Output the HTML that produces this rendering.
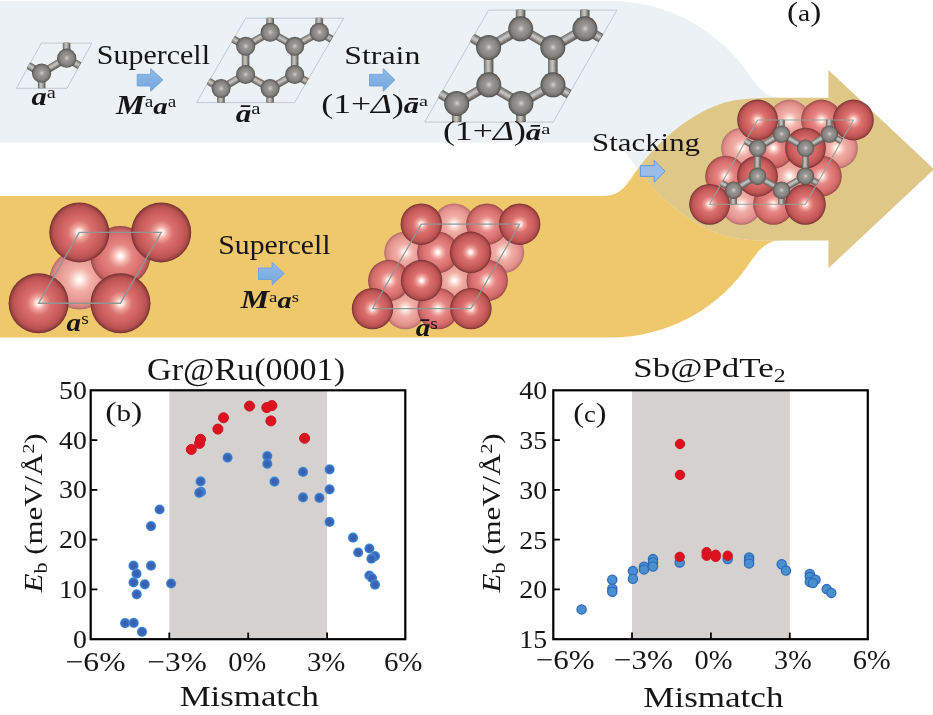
<!DOCTYPE html>
<html><head><meta charset="utf-8"><title>Figure</title><style>html,body{margin:0;padding:0;background:#fff}svg{display:block}</style></head><body>
<svg width="933" height="715" viewBox="0 0 933 715" font-family="'Liberation Serif',serif" fill="#161616"><defs>
<radialGradient id="gC" cx="50%" cy="50%" r="50%" fx="51%" fy="49%">
<stop offset="0" stop-color="#dedcd8"/><stop offset="0.1" stop-color="#bcbab6"/><stop offset="0.3" stop-color="#9a9894"/><stop offset="0.7" stop-color="#868481"/><stop offset="0.9" stop-color="#6a6865"/><stop offset="1" stop-color="#4a4846"/>
</radialGradient>
<radialGradient id="gR1" cx="50%" cy="50%" r="50%">
<stop offset="0" stop-color="#ffffff"/><stop offset="0.08" stop-color="#ffece8"/><stop offset="0.22" stop-color="#f0a29a"/><stop offset="0.40" stop-color="#da706e"/><stop offset="0.65" stop-color="#cd605f"/><stop offset="0.85" stop-color="#ba5252"/><stop offset="0.94" stop-color="#9a4242"/><stop offset="1" stop-color="#6e2c2c"/>
</radialGradient>
<radialGradient id="gR2" cx="50%" cy="50%" r="50%">
<stop offset="0" stop-color="#ffffff"/><stop offset="0.08" stop-color="#fff2ee"/><stop offset="0.22" stop-color="#f6b8b0"/><stop offset="0.40" stop-color="#e68684"/><stop offset="0.65" stop-color="#dc7472"/><stop offset="0.85" stop-color="#cc6664"/><stop offset="0.95" stop-color="#ae5454"/><stop offset="1" stop-color="#8e4444"/>
</radialGradient>
<radialGradient id="gR3" cx="50%" cy="50%" r="50%">
<stop offset="0" stop-color="#ffffff"/><stop offset="0.08" stop-color="#fff6f2"/><stop offset="0.22" stop-color="#f9d2ca"/><stop offset="0.40" stop-color="#f0aea6"/><stop offset="0.65" stop-color="#ea9c96"/><stop offset="0.85" stop-color="#de8c88"/><stop offset="0.95" stop-color="#c67876"/><stop offset="1" stop-color="#aa6866"/>
</radialGradient>
<radialGradient id="gB"><stop offset="0" stop-color="#3a5fae"/><stop offset="0.5" stop-color="#3963b3"/><stop offset="0.8" stop-color="#3d78c8"/><stop offset="1" stop-color="#4e98e4"/></radialGradient>
<linearGradient id="gA" x1="0" y1="0" x2="0" y2="1">
<stop offset="0" stop-color="#93bbe8"/><stop offset="1" stop-color="#74a6de"/>
</linearGradient>
</defs>
<path d="M0.0,337.5 L610.0,337.5 A168.3,168.3 0 0 0 751.5,260.3 C757.5,251.9 766.0,240.6 780.0,240.6 L828.4,240.6 L828.4,268.3 L934.0,169.2 L828.4,70.1 L828.4,97.8 L772.0,97.7 C770.2,97.7 765.0,97.8 761.5,97.9 C758.0,98.0 754.4,98.2 750.8,98.5 C747.2,98.8 743.6,99.1 740.0,99.6 C736.4,100.1 732.9,100.7 729.3,101.6 C725.7,102.4 722.2,103.4 718.6,104.7 C715.0,105.9 711.5,107.4 707.9,109.1 C704.3,110.8 700.8,112.7 697.2,114.8 C693.6,116.9 690.1,119.1 686.5,121.6 C682.9,124.1 679.3,126.7 675.7,129.6 C672.1,132.4 668.6,135.4 665.0,138.7 C661.4,141.9 657.8,145.4 654.3,149.1 C650.8,152.7 647.2,157.0 644.3,160.6 C641.3,164.2 638.9,167.5 636.6,170.6 C634.3,173.7 632.3,176.8 630.5,179.2 C628.7,181.6 627.5,183.4 626.0,185.2 C624.5,187.0 623.1,188.5 621.5,189.8 C619.9,191.1 618.3,192.2 616.5,193.1 C614.7,194.0 612.6,194.7 610.5,195.2 C608.4,195.7 605.1,195.8 604.0,195.9 L0.0,195.9 Z" fill="#efc86c"/>
<path d="M0.0,0.9 L610.0,0.9 A168.3,168.3 0 0 1 751.5,78.1 C757.5,86.5 766.0,97.8 780.0,97.8 L828.4,97.8 L828.4,70.1 L934.0,169.2 L828.4,268.3 L828.4,240.6 L772.0,240.7 C770.2,240.7 765.0,240.6 761.5,240.5 C758.0,240.4 754.4,240.2 750.8,239.9 C747.2,239.6 743.6,239.3 740.0,238.8 C736.4,238.3 732.9,237.7 729.3,236.8 C725.7,236.0 722.2,234.9 718.6,233.7 C715.0,232.4 711.5,231.0 707.9,229.3 C704.3,227.6 700.8,225.7 697.2,223.6 C693.6,221.5 690.1,219.3 686.5,216.8 C682.9,214.3 679.3,211.7 675.7,208.8 C672.1,206.0 668.6,202.9 665.0,199.7 C661.4,196.4 657.8,193.0 654.3,189.3 C650.8,185.7 647.2,181.4 644.3,177.8 C641.3,174.2 638.9,170.9 636.6,167.8 C634.3,164.7 632.3,161.6 630.5,159.2 C628.7,156.8 627.5,155.0 626.0,153.2 C624.5,151.4 623.1,149.9 621.5,148.6 C619.9,147.3 618.3,146.2 616.5,145.3 C614.7,144.4 612.6,143.7 610.5,143.2 C608.4,142.7 605.1,142.6 604.0,142.5 L0.0,142.5 Z" fill="#ecf1f5"/>
<clipPath id="cpO"><path d="M0.0,337.5 L610.0,337.5 A168.3,168.3 0 0 0 751.5,260.3 C757.5,251.9 766.0,240.6 780.0,240.6 L828.4,240.6 L828.4,268.3 L934.0,169.2 L828.4,70.1 L828.4,97.8 L772.0,97.7 C770.2,97.7 765.0,97.8 761.5,97.9 C758.0,98.0 754.4,98.2 750.8,98.5 C747.2,98.8 743.6,99.1 740.0,99.6 C736.4,100.1 732.9,100.7 729.3,101.6 C725.7,102.4 722.2,103.4 718.6,104.7 C715.0,105.9 711.5,107.4 707.9,109.1 C704.3,110.8 700.8,112.7 697.2,114.8 C693.6,116.9 690.1,119.1 686.5,121.6 C682.9,124.1 679.3,126.7 675.7,129.6 C672.1,132.4 668.6,135.4 665.0,138.7 C661.4,141.9 657.8,145.4 654.3,149.1 C650.8,152.7 647.2,157.0 644.3,160.6 C641.3,164.2 638.9,167.5 636.6,170.6 C634.3,173.7 632.3,176.8 630.5,179.2 C628.7,181.6 627.5,183.4 626.0,185.2 C624.5,187.0 623.1,188.5 621.5,189.8 C619.9,191.1 618.3,192.2 616.5,193.1 C614.7,194.0 612.6,194.7 610.5,195.2 C608.4,195.7 605.1,195.8 604.0,195.9 L0.0,195.9 Z"/></clipPath>
<path d="M0.0,0.9 L610.0,0.9 A168.3,168.3 0 0 1 751.5,78.1 C757.5,86.5 766.0,97.8 780.0,97.8 L828.4,97.8 L828.4,70.1 L934.0,169.2 L828.4,268.3 L828.4,240.6 L772.0,240.7 C770.2,240.7 765.0,240.6 761.5,240.5 C758.0,240.4 754.4,240.2 750.8,239.9 C747.2,239.6 743.6,239.3 740.0,238.8 C736.4,238.3 732.9,237.7 729.3,236.8 C725.7,236.0 722.2,234.9 718.6,233.7 C715.0,232.4 711.5,231.0 707.9,229.3 C704.3,227.6 700.8,225.7 697.2,223.6 C693.6,221.5 690.1,219.3 686.5,216.8 C682.9,214.3 679.3,211.7 675.7,208.8 C672.1,206.0 668.6,202.9 665.0,199.7 C661.4,196.4 657.8,193.0 654.3,189.3 C650.8,185.7 647.2,181.4 644.3,177.8 C641.3,174.2 638.9,170.9 636.6,167.8 C634.3,164.7 632.3,161.6 630.5,159.2 C628.7,156.8 627.5,155.0 626.0,153.2 C624.5,151.4 623.1,149.9 621.5,148.6 C619.9,147.3 618.3,146.2 616.5,145.3 C614.7,144.4 612.6,143.7 610.5,143.2 C608.4,142.7 605.1,142.6 604.0,142.5 L0.0,142.5 Z" fill="#dfc887" clip-path="url(#cpO)"/>
<polygon points="16.4,88.3 67.0,88.3 91.9,43.1 41.3,43.1" fill="none" stroke="#bcc3c8" stroke-width="0.90"/>
<g stroke="#666461" stroke-width="7.60" transform="translate(0.00,0.00)"><line x1="41.6" y1="73.2" x2="54.1" y2="65.7"/><line x1="41.6" y1="73.2" x2="28.8" y2="65.7"/><line x1="41.6" y1="73.2" x2="41.7" y2="88.3"/><line x1="66.7" y1="58.2" x2="54.1" y2="65.7"/><line x1="66.7" y1="58.2" x2="79.5" y2="65.7"/><line x1="66.7" y1="58.2" x2="66.6" y2="43.1"/></g>
<g stroke="#807e7b" stroke-width="6.08" transform="translate(-0.46,-0.46)"><line x1="41.6" y1="73.2" x2="54.1" y2="65.7"/><line x1="41.6" y1="73.2" x2="28.8" y2="65.7"/><line x1="41.6" y1="73.2" x2="41.7" y2="88.3"/><line x1="66.7" y1="58.2" x2="54.1" y2="65.7"/><line x1="66.7" y1="58.2" x2="79.5" y2="65.7"/><line x1="66.7" y1="58.2" x2="66.6" y2="43.1"/></g>
<g stroke="#9c9a96" stroke-width="4.41" transform="translate(-0.46,-0.46)"><line x1="41.6" y1="73.2" x2="54.1" y2="65.7"/><line x1="41.6" y1="73.2" x2="28.8" y2="65.7"/><line x1="41.6" y1="73.2" x2="41.7" y2="88.3"/><line x1="66.7" y1="58.2" x2="54.1" y2="65.7"/><line x1="66.7" y1="58.2" x2="79.5" y2="65.7"/><line x1="66.7" y1="58.2" x2="66.6" y2="43.1"/></g>
<g stroke="#b4b2ae" stroke-width="2.74" transform="translate(-0.46,-0.46)"><line x1="41.6" y1="73.2" x2="54.1" y2="65.7"/><line x1="41.6" y1="73.2" x2="28.8" y2="65.7"/><line x1="41.6" y1="73.2" x2="41.7" y2="88.3"/><line x1="66.7" y1="58.2" x2="54.1" y2="65.7"/><line x1="66.7" y1="58.2" x2="79.5" y2="65.7"/><line x1="66.7" y1="58.2" x2="66.6" y2="43.1"/></g>
<g stroke="#c4c2be" stroke-width="1.22" transform="translate(-0.46,-0.46)"><line x1="41.6" y1="73.2" x2="54.1" y2="65.7"/><line x1="41.6" y1="73.2" x2="28.8" y2="65.7"/><line x1="41.6" y1="73.2" x2="41.7" y2="88.3"/><line x1="66.7" y1="58.2" x2="54.1" y2="65.7"/><line x1="66.7" y1="58.2" x2="79.5" y2="65.7"/><line x1="66.7" y1="58.2" x2="66.6" y2="43.1"/></g>
<circle cx="41.6" cy="73.2" r="9.60" fill="url(#gC)"/>
<circle cx="66.7" cy="58.2" r="9.60" fill="url(#gC)"/>
<polygon points="196.5,102.6 294.6,102.6 343.8,18.2 245.7,18.2" fill="none" stroke="#bcc3c8" stroke-width="0.90"/>
<g stroke="#666461" stroke-width="7.60" transform="translate(0.00,0.00)"><line x1="221.1" y1="88.5" x2="233.3" y2="81.5"/><line x1="221.1" y1="88.5" x2="208.8" y2="81.5"/><line x1="221.1" y1="88.5" x2="221.0" y2="102.6"/><line x1="245.7" y1="46.3" x2="257.9" y2="39.3"/><line x1="245.7" y1="46.3" x2="233.4" y2="39.3"/><line x1="245.7" y1="46.3" x2="245.6" y2="60.4"/><line x1="270.1" y1="88.5" x2="282.4" y2="81.5"/><line x1="270.1" y1="88.5" x2="257.9" y2="81.5"/><line x1="270.1" y1="88.5" x2="270.1" y2="102.6"/><line x1="294.7" y1="46.3" x2="307.0" y2="39.3"/><line x1="294.7" y1="46.3" x2="282.5" y2="39.3"/><line x1="294.7" y1="46.3" x2="294.7" y2="60.4"/><line x1="245.6" y1="74.5" x2="233.3" y2="81.5"/><line x1="245.6" y1="74.5" x2="257.8" y2="81.5"/><line x1="245.6" y1="74.5" x2="245.6" y2="60.4"/><line x1="270.2" y1="32.3" x2="257.9" y2="39.3"/><line x1="270.2" y1="32.3" x2="282.4" y2="39.3"/><line x1="270.2" y1="32.3" x2="270.2" y2="18.2"/><line x1="294.7" y1="74.5" x2="282.4" y2="81.5"/><line x1="294.7" y1="74.5" x2="306.9" y2="81.5"/><line x1="294.7" y1="74.5" x2="294.7" y2="60.4"/><line x1="319.3" y1="32.3" x2="307.0" y2="39.3"/><line x1="319.3" y1="32.3" x2="331.5" y2="39.3"/><line x1="319.3" y1="32.3" x2="319.3" y2="18.2"/></g>
<g stroke="#807e7b" stroke-width="6.08" transform="translate(-0.46,-0.46)"><line x1="221.1" y1="88.5" x2="233.3" y2="81.5"/><line x1="221.1" y1="88.5" x2="208.8" y2="81.5"/><line x1="221.1" y1="88.5" x2="221.0" y2="102.6"/><line x1="245.7" y1="46.3" x2="257.9" y2="39.3"/><line x1="245.7" y1="46.3" x2="233.4" y2="39.3"/><line x1="245.7" y1="46.3" x2="245.6" y2="60.4"/><line x1="270.1" y1="88.5" x2="282.4" y2="81.5"/><line x1="270.1" y1="88.5" x2="257.9" y2="81.5"/><line x1="270.1" y1="88.5" x2="270.1" y2="102.6"/><line x1="294.7" y1="46.3" x2="307.0" y2="39.3"/><line x1="294.7" y1="46.3" x2="282.5" y2="39.3"/><line x1="294.7" y1="46.3" x2="294.7" y2="60.4"/><line x1="245.6" y1="74.5" x2="233.3" y2="81.5"/><line x1="245.6" y1="74.5" x2="257.8" y2="81.5"/><line x1="245.6" y1="74.5" x2="245.6" y2="60.4"/><line x1="270.2" y1="32.3" x2="257.9" y2="39.3"/><line x1="270.2" y1="32.3" x2="282.4" y2="39.3"/><line x1="270.2" y1="32.3" x2="270.2" y2="18.2"/><line x1="294.7" y1="74.5" x2="282.4" y2="81.5"/><line x1="294.7" y1="74.5" x2="306.9" y2="81.5"/><line x1="294.7" y1="74.5" x2="294.7" y2="60.4"/><line x1="319.3" y1="32.3" x2="307.0" y2="39.3"/><line x1="319.3" y1="32.3" x2="331.5" y2="39.3"/><line x1="319.3" y1="32.3" x2="319.3" y2="18.2"/></g>
<g stroke="#9c9a96" stroke-width="4.41" transform="translate(-0.46,-0.46)"><line x1="221.1" y1="88.5" x2="233.3" y2="81.5"/><line x1="221.1" y1="88.5" x2="208.8" y2="81.5"/><line x1="221.1" y1="88.5" x2="221.0" y2="102.6"/><line x1="245.7" y1="46.3" x2="257.9" y2="39.3"/><line x1="245.7" y1="46.3" x2="233.4" y2="39.3"/><line x1="245.7" y1="46.3" x2="245.6" y2="60.4"/><line x1="270.1" y1="88.5" x2="282.4" y2="81.5"/><line x1="270.1" y1="88.5" x2="257.9" y2="81.5"/><line x1="270.1" y1="88.5" x2="270.1" y2="102.6"/><line x1="294.7" y1="46.3" x2="307.0" y2="39.3"/><line x1="294.7" y1="46.3" x2="282.5" y2="39.3"/><line x1="294.7" y1="46.3" x2="294.7" y2="60.4"/><line x1="245.6" y1="74.5" x2="233.3" y2="81.5"/><line x1="245.6" y1="74.5" x2="257.8" y2="81.5"/><line x1="245.6" y1="74.5" x2="245.6" y2="60.4"/><line x1="270.2" y1="32.3" x2="257.9" y2="39.3"/><line x1="270.2" y1="32.3" x2="282.4" y2="39.3"/><line x1="270.2" y1="32.3" x2="270.2" y2="18.2"/><line x1="294.7" y1="74.5" x2="282.4" y2="81.5"/><line x1="294.7" y1="74.5" x2="306.9" y2="81.5"/><line x1="294.7" y1="74.5" x2="294.7" y2="60.4"/><line x1="319.3" y1="32.3" x2="307.0" y2="39.3"/><line x1="319.3" y1="32.3" x2="331.5" y2="39.3"/><line x1="319.3" y1="32.3" x2="319.3" y2="18.2"/></g>
<g stroke="#b4b2ae" stroke-width="2.74" transform="translate(-0.46,-0.46)"><line x1="221.1" y1="88.5" x2="233.3" y2="81.5"/><line x1="221.1" y1="88.5" x2="208.8" y2="81.5"/><line x1="221.1" y1="88.5" x2="221.0" y2="102.6"/><line x1="245.7" y1="46.3" x2="257.9" y2="39.3"/><line x1="245.7" y1="46.3" x2="233.4" y2="39.3"/><line x1="245.7" y1="46.3" x2="245.6" y2="60.4"/><line x1="270.1" y1="88.5" x2="282.4" y2="81.5"/><line x1="270.1" y1="88.5" x2="257.9" y2="81.5"/><line x1="270.1" y1="88.5" x2="270.1" y2="102.6"/><line x1="294.7" y1="46.3" x2="307.0" y2="39.3"/><line x1="294.7" y1="46.3" x2="282.5" y2="39.3"/><line x1="294.7" y1="46.3" x2="294.7" y2="60.4"/><line x1="245.6" y1="74.5" x2="233.3" y2="81.5"/><line x1="245.6" y1="74.5" x2="257.8" y2="81.5"/><line x1="245.6" y1="74.5" x2="245.6" y2="60.4"/><line x1="270.2" y1="32.3" x2="257.9" y2="39.3"/><line x1="270.2" y1="32.3" x2="282.4" y2="39.3"/><line x1="270.2" y1="32.3" x2="270.2" y2="18.2"/><line x1="294.7" y1="74.5" x2="282.4" y2="81.5"/><line x1="294.7" y1="74.5" x2="306.9" y2="81.5"/><line x1="294.7" y1="74.5" x2="294.7" y2="60.4"/><line x1="319.3" y1="32.3" x2="307.0" y2="39.3"/><line x1="319.3" y1="32.3" x2="331.5" y2="39.3"/><line x1="319.3" y1="32.3" x2="319.3" y2="18.2"/></g>
<g stroke="#c4c2be" stroke-width="1.22" transform="translate(-0.46,-0.46)"><line x1="221.1" y1="88.5" x2="233.3" y2="81.5"/><line x1="221.1" y1="88.5" x2="208.8" y2="81.5"/><line x1="221.1" y1="88.5" x2="221.0" y2="102.6"/><line x1="245.7" y1="46.3" x2="257.9" y2="39.3"/><line x1="245.7" y1="46.3" x2="233.4" y2="39.3"/><line x1="245.7" y1="46.3" x2="245.6" y2="60.4"/><line x1="270.1" y1="88.5" x2="282.4" y2="81.5"/><line x1="270.1" y1="88.5" x2="257.9" y2="81.5"/><line x1="270.1" y1="88.5" x2="270.1" y2="102.6"/><line x1="294.7" y1="46.3" x2="307.0" y2="39.3"/><line x1="294.7" y1="46.3" x2="282.5" y2="39.3"/><line x1="294.7" y1="46.3" x2="294.7" y2="60.4"/><line x1="245.6" y1="74.5" x2="233.3" y2="81.5"/><line x1="245.6" y1="74.5" x2="257.8" y2="81.5"/><line x1="245.6" y1="74.5" x2="245.6" y2="60.4"/><line x1="270.2" y1="32.3" x2="257.9" y2="39.3"/><line x1="270.2" y1="32.3" x2="282.4" y2="39.3"/><line x1="270.2" y1="32.3" x2="270.2" y2="18.2"/><line x1="294.7" y1="74.5" x2="282.4" y2="81.5"/><line x1="294.7" y1="74.5" x2="306.9" y2="81.5"/><line x1="294.7" y1="74.5" x2="294.7" y2="60.4"/><line x1="319.3" y1="32.3" x2="307.0" y2="39.3"/><line x1="319.3" y1="32.3" x2="331.5" y2="39.3"/><line x1="319.3" y1="32.3" x2="319.3" y2="18.2"/></g>
<circle cx="221.1" cy="88.5" r="9.50" fill="url(#gC)"/>
<circle cx="245.7" cy="46.3" r="9.50" fill="url(#gC)"/>
<circle cx="270.1" cy="88.5" r="9.50" fill="url(#gC)"/>
<circle cx="294.7" cy="46.3" r="9.50" fill="url(#gC)"/>
<circle cx="245.6" cy="74.5" r="9.50" fill="url(#gC)"/>
<circle cx="270.2" cy="32.3" r="9.50" fill="url(#gC)"/>
<circle cx="294.7" cy="74.5" r="9.50" fill="url(#gC)"/>
<circle cx="319.3" cy="32.3" r="9.50" fill="url(#gC)"/>
<polygon points="424.7,122.1 553.1,122.1 616.9,10.1 488.5,10.1" fill="none" stroke="#bcc3c8" stroke-width="0.90"/>
<g stroke="#666461" stroke-width="9.60" transform="translate(0.00,0.00)"><line x1="456.7" y1="103.4" x2="472.8" y2="94.1"/><line x1="456.7" y1="103.4" x2="440.7" y2="94.1"/><line x1="456.7" y1="103.4" x2="456.8" y2="122.1"/><line x1="488.6" y1="47.4" x2="504.6" y2="38.1"/><line x1="488.6" y1="47.4" x2="472.6" y2="38.1"/><line x1="488.6" y1="47.4" x2="488.7" y2="66.1"/><line x1="520.9" y1="103.4" x2="536.9" y2="94.1"/><line x1="520.9" y1="103.4" x2="504.8" y2="94.1"/><line x1="520.9" y1="103.4" x2="521.0" y2="122.1"/><line x1="552.8" y1="47.4" x2="568.8" y2="38.1"/><line x1="552.8" y1="47.4" x2="536.7" y2="38.1"/><line x1="552.8" y1="47.4" x2="552.9" y2="66.1"/><line x1="488.8" y1="84.8" x2="472.8" y2="94.1"/><line x1="488.8" y1="84.8" x2="504.8" y2="94.1"/><line x1="488.8" y1="84.8" x2="488.7" y2="66.1"/><line x1="520.7" y1="28.8" x2="504.6" y2="38.1"/><line x1="520.7" y1="28.8" x2="536.8" y2="38.1"/><line x1="520.7" y1="28.8" x2="520.6" y2="10.1"/><line x1="553.0" y1="84.8" x2="537.0" y2="94.1"/><line x1="553.0" y1="84.8" x2="569.1" y2="94.1"/><line x1="553.0" y1="84.8" x2="552.9" y2="66.1"/><line x1="584.9" y1="28.8" x2="568.8" y2="38.1"/><line x1="584.9" y1="28.8" x2="600.9" y2="38.1"/><line x1="584.9" y1="28.8" x2="584.8" y2="10.1"/></g>
<g stroke="#807e7b" stroke-width="7.68" transform="translate(-0.58,-0.58)"><line x1="456.7" y1="103.4" x2="472.8" y2="94.1"/><line x1="456.7" y1="103.4" x2="440.7" y2="94.1"/><line x1="456.7" y1="103.4" x2="456.8" y2="122.1"/><line x1="488.6" y1="47.4" x2="504.6" y2="38.1"/><line x1="488.6" y1="47.4" x2="472.6" y2="38.1"/><line x1="488.6" y1="47.4" x2="488.7" y2="66.1"/><line x1="520.9" y1="103.4" x2="536.9" y2="94.1"/><line x1="520.9" y1="103.4" x2="504.8" y2="94.1"/><line x1="520.9" y1="103.4" x2="521.0" y2="122.1"/><line x1="552.8" y1="47.4" x2="568.8" y2="38.1"/><line x1="552.8" y1="47.4" x2="536.7" y2="38.1"/><line x1="552.8" y1="47.4" x2="552.9" y2="66.1"/><line x1="488.8" y1="84.8" x2="472.8" y2="94.1"/><line x1="488.8" y1="84.8" x2="504.8" y2="94.1"/><line x1="488.8" y1="84.8" x2="488.7" y2="66.1"/><line x1="520.7" y1="28.8" x2="504.6" y2="38.1"/><line x1="520.7" y1="28.8" x2="536.8" y2="38.1"/><line x1="520.7" y1="28.8" x2="520.6" y2="10.1"/><line x1="553.0" y1="84.8" x2="537.0" y2="94.1"/><line x1="553.0" y1="84.8" x2="569.1" y2="94.1"/><line x1="553.0" y1="84.8" x2="552.9" y2="66.1"/><line x1="584.9" y1="28.8" x2="568.8" y2="38.1"/><line x1="584.9" y1="28.8" x2="600.9" y2="38.1"/><line x1="584.9" y1="28.8" x2="584.8" y2="10.1"/></g>
<g stroke="#9c9a96" stroke-width="5.57" transform="translate(-0.58,-0.58)"><line x1="456.7" y1="103.4" x2="472.8" y2="94.1"/><line x1="456.7" y1="103.4" x2="440.7" y2="94.1"/><line x1="456.7" y1="103.4" x2="456.8" y2="122.1"/><line x1="488.6" y1="47.4" x2="504.6" y2="38.1"/><line x1="488.6" y1="47.4" x2="472.6" y2="38.1"/><line x1="488.6" y1="47.4" x2="488.7" y2="66.1"/><line x1="520.9" y1="103.4" x2="536.9" y2="94.1"/><line x1="520.9" y1="103.4" x2="504.8" y2="94.1"/><line x1="520.9" y1="103.4" x2="521.0" y2="122.1"/><line x1="552.8" y1="47.4" x2="568.8" y2="38.1"/><line x1="552.8" y1="47.4" x2="536.7" y2="38.1"/><line x1="552.8" y1="47.4" x2="552.9" y2="66.1"/><line x1="488.8" y1="84.8" x2="472.8" y2="94.1"/><line x1="488.8" y1="84.8" x2="504.8" y2="94.1"/><line x1="488.8" y1="84.8" x2="488.7" y2="66.1"/><line x1="520.7" y1="28.8" x2="504.6" y2="38.1"/><line x1="520.7" y1="28.8" x2="536.8" y2="38.1"/><line x1="520.7" y1="28.8" x2="520.6" y2="10.1"/><line x1="553.0" y1="84.8" x2="537.0" y2="94.1"/><line x1="553.0" y1="84.8" x2="569.1" y2="94.1"/><line x1="553.0" y1="84.8" x2="552.9" y2="66.1"/><line x1="584.9" y1="28.8" x2="568.8" y2="38.1"/><line x1="584.9" y1="28.8" x2="600.9" y2="38.1"/><line x1="584.9" y1="28.8" x2="584.8" y2="10.1"/></g>
<g stroke="#b4b2ae" stroke-width="3.46" transform="translate(-0.58,-0.58)"><line x1="456.7" y1="103.4" x2="472.8" y2="94.1"/><line x1="456.7" y1="103.4" x2="440.7" y2="94.1"/><line x1="456.7" y1="103.4" x2="456.8" y2="122.1"/><line x1="488.6" y1="47.4" x2="504.6" y2="38.1"/><line x1="488.6" y1="47.4" x2="472.6" y2="38.1"/><line x1="488.6" y1="47.4" x2="488.7" y2="66.1"/><line x1="520.9" y1="103.4" x2="536.9" y2="94.1"/><line x1="520.9" y1="103.4" x2="504.8" y2="94.1"/><line x1="520.9" y1="103.4" x2="521.0" y2="122.1"/><line x1="552.8" y1="47.4" x2="568.8" y2="38.1"/><line x1="552.8" y1="47.4" x2="536.7" y2="38.1"/><line x1="552.8" y1="47.4" x2="552.9" y2="66.1"/><line x1="488.8" y1="84.8" x2="472.8" y2="94.1"/><line x1="488.8" y1="84.8" x2="504.8" y2="94.1"/><line x1="488.8" y1="84.8" x2="488.7" y2="66.1"/><line x1="520.7" y1="28.8" x2="504.6" y2="38.1"/><line x1="520.7" y1="28.8" x2="536.8" y2="38.1"/><line x1="520.7" y1="28.8" x2="520.6" y2="10.1"/><line x1="553.0" y1="84.8" x2="537.0" y2="94.1"/><line x1="553.0" y1="84.8" x2="569.1" y2="94.1"/><line x1="553.0" y1="84.8" x2="552.9" y2="66.1"/><line x1="584.9" y1="28.8" x2="568.8" y2="38.1"/><line x1="584.9" y1="28.8" x2="600.9" y2="38.1"/><line x1="584.9" y1="28.8" x2="584.8" y2="10.1"/></g>
<g stroke="#c4c2be" stroke-width="1.54" transform="translate(-0.58,-0.58)"><line x1="456.7" y1="103.4" x2="472.8" y2="94.1"/><line x1="456.7" y1="103.4" x2="440.7" y2="94.1"/><line x1="456.7" y1="103.4" x2="456.8" y2="122.1"/><line x1="488.6" y1="47.4" x2="504.6" y2="38.1"/><line x1="488.6" y1="47.4" x2="472.6" y2="38.1"/><line x1="488.6" y1="47.4" x2="488.7" y2="66.1"/><line x1="520.9" y1="103.4" x2="536.9" y2="94.1"/><line x1="520.9" y1="103.4" x2="504.8" y2="94.1"/><line x1="520.9" y1="103.4" x2="521.0" y2="122.1"/><line x1="552.8" y1="47.4" x2="568.8" y2="38.1"/><line x1="552.8" y1="47.4" x2="536.7" y2="38.1"/><line x1="552.8" y1="47.4" x2="552.9" y2="66.1"/><line x1="488.8" y1="84.8" x2="472.8" y2="94.1"/><line x1="488.8" y1="84.8" x2="504.8" y2="94.1"/><line x1="488.8" y1="84.8" x2="488.7" y2="66.1"/><line x1="520.7" y1="28.8" x2="504.6" y2="38.1"/><line x1="520.7" y1="28.8" x2="536.8" y2="38.1"/><line x1="520.7" y1="28.8" x2="520.6" y2="10.1"/><line x1="553.0" y1="84.8" x2="537.0" y2="94.1"/><line x1="553.0" y1="84.8" x2="569.1" y2="94.1"/><line x1="553.0" y1="84.8" x2="552.9" y2="66.1"/><line x1="584.9" y1="28.8" x2="568.8" y2="38.1"/><line x1="584.9" y1="28.8" x2="600.9" y2="38.1"/><line x1="584.9" y1="28.8" x2="584.8" y2="10.1"/></g>
<circle cx="456.7" cy="103.4" r="12.50" fill="url(#gC)"/>
<circle cx="488.6" cy="47.4" r="12.50" fill="url(#gC)"/>
<circle cx="520.9" cy="103.4" r="12.50" fill="url(#gC)"/>
<circle cx="552.8" cy="47.4" r="12.50" fill="url(#gC)"/>
<circle cx="488.8" cy="84.8" r="12.50" fill="url(#gC)"/>
<circle cx="520.7" cy="28.8" r="12.50" fill="url(#gC)"/>
<circle cx="553.0" cy="84.8" r="12.50" fill="url(#gC)"/>
<circle cx="584.9" cy="28.8" r="12.50" fill="url(#gC)"/>
<circle cx="79.5" cy="279.6" r="30.00" fill="url(#gR3)"/>
<circle cx="120.3" cy="256.0" r="30.00" fill="url(#gR2)"/>
<circle cx="38.6" cy="303.2" r="30.00" fill="url(#gR1)"/>
<circle cx="120.5" cy="303.2" r="30.00" fill="url(#gR1)"/>
<circle cx="79.3" cy="232.4" r="30.00" fill="url(#gR1)"/>
<circle cx="161.2" cy="232.4" r="30.00" fill="url(#gR1)"/>
<polygon points="38.6,303.2 120.5,303.2 161.2,232.4 79.3,232.4" fill="none" stroke="#8e9794" stroke-width="1.40"/>
<circle cx="405.3" cy="308.6" r="20.70" fill="url(#gR3)"/>
<circle cx="454.4" cy="280.5" r="20.70" fill="url(#gR3)"/>
<circle cx="503.4" cy="252.3" r="20.70" fill="url(#gR3)"/>
<circle cx="405.0" cy="252.3" r="20.70" fill="url(#gR3)"/>
<circle cx="454.1" cy="224.2" r="20.70" fill="url(#gR3)"/>
<circle cx="438.1" cy="308.6" r="20.70" fill="url(#gR2)"/>
<circle cx="388.8" cy="280.5" r="20.70" fill="url(#gR2)"/>
<circle cx="487.2" cy="280.5" r="20.70" fill="url(#gR2)"/>
<circle cx="437.8" cy="252.3" r="20.70" fill="url(#gR2)"/>
<circle cx="486.9" cy="224.2" r="20.70" fill="url(#gR2)"/>
<circle cx="372.5" cy="308.6" r="20.70" fill="url(#gR1)"/>
<circle cx="470.9" cy="308.6" r="20.70" fill="url(#gR1)"/>
<circle cx="421.3" cy="224.2" r="20.70" fill="url(#gR1)"/>
<circle cx="519.7" cy="224.2" r="20.70" fill="url(#gR1)"/>
<circle cx="421.6" cy="280.5" r="20.70" fill="url(#gR1)"/>
<circle cx="470.6" cy="252.3" r="20.70" fill="url(#gR1)"/>
<polygon points="372.5,308.6 470.9,308.6 519.7,224.2 421.3,224.2" fill="none" stroke="#8e9794" stroke-width="1.20"/>
<circle cx="741.5" cy="204.3" r="20.40" fill="url(#gR3)"/>
<circle cx="789.5" cy="176.2" r="20.40" fill="url(#gR3)"/>
<circle cx="837.4" cy="148.1" r="20.40" fill="url(#gR3)"/>
<circle cx="741.6" cy="148.1" r="20.40" fill="url(#gR3)"/>
<circle cx="789.5" cy="120.0" r="20.40" fill="url(#gR3)"/>
<circle cx="773.5" cy="204.3" r="20.40" fill="url(#gR2)"/>
<circle cx="725.6" cy="176.2" r="20.40" fill="url(#gR2)"/>
<circle cx="821.4" cy="176.2" r="20.40" fill="url(#gR2)"/>
<circle cx="773.5" cy="148.1" r="20.40" fill="url(#gR2)"/>
<circle cx="821.5" cy="120.0" r="20.40" fill="url(#gR2)"/>
<circle cx="709.6" cy="204.3" r="20.40" fill="url(#gR1)"/>
<circle cx="805.4" cy="204.3" r="20.40" fill="url(#gR1)"/>
<circle cx="757.6" cy="120.0" r="20.40" fill="url(#gR1)"/>
<circle cx="853.4" cy="120.0" r="20.40" fill="url(#gR1)"/>
<circle cx="757.5" cy="176.2" r="20.40" fill="url(#gR1)"/>
<circle cx="805.5" cy="148.1" r="20.40" fill="url(#gR1)"/>
<polygon points="709.6,204.3 805.4,204.3 853.4,120.0 757.6,120.0" fill="none" stroke="#9aa09c" stroke-width="1.10"/>
<g stroke="#666461" stroke-width="6.60" transform="translate(0.00,0.00)"><line x1="733.6" y1="190.2" x2="745.6" y2="183.2"/><line x1="733.6" y1="190.2" x2="721.6" y2="183.2"/><line x1="733.6" y1="190.2" x2="733.6" y2="204.3"/><line x1="757.6" y1="148.1" x2="769.6" y2="141.1"/><line x1="757.6" y1="148.1" x2="745.6" y2="141.1"/><line x1="757.6" y1="148.1" x2="757.6" y2="162.2"/><line x1="781.5" y1="190.2" x2="793.5" y2="183.2"/><line x1="781.5" y1="190.2" x2="769.5" y2="183.2"/><line x1="781.5" y1="190.2" x2="781.5" y2="204.3"/><line x1="805.5" y1="148.1" x2="817.5" y2="141.1"/><line x1="805.5" y1="148.1" x2="793.5" y2="141.1"/><line x1="805.5" y1="148.1" x2="805.5" y2="162.2"/><line x1="757.5" y1="176.2" x2="745.5" y2="183.2"/><line x1="757.5" y1="176.2" x2="769.5" y2="183.2"/><line x1="757.5" y1="176.2" x2="757.5" y2="162.2"/><line x1="781.5" y1="134.1" x2="769.5" y2="141.1"/><line x1="781.5" y1="134.1" x2="793.5" y2="141.1"/><line x1="781.5" y1="134.1" x2="781.5" y2="120.0"/><line x1="805.4" y1="176.2" x2="793.5" y2="183.2"/><line x1="805.4" y1="176.2" x2="817.4" y2="183.2"/><line x1="805.4" y1="176.2" x2="805.5" y2="162.2"/><line x1="829.4" y1="134.1" x2="817.5" y2="141.1"/><line x1="829.4" y1="134.1" x2="841.4" y2="141.1"/><line x1="829.4" y1="134.1" x2="829.5" y2="120.0"/></g>
<g stroke="#807e7b" stroke-width="5.28" transform="translate(-0.40,-0.40)"><line x1="733.6" y1="190.2" x2="745.6" y2="183.2"/><line x1="733.6" y1="190.2" x2="721.6" y2="183.2"/><line x1="733.6" y1="190.2" x2="733.6" y2="204.3"/><line x1="757.6" y1="148.1" x2="769.6" y2="141.1"/><line x1="757.6" y1="148.1" x2="745.6" y2="141.1"/><line x1="757.6" y1="148.1" x2="757.6" y2="162.2"/><line x1="781.5" y1="190.2" x2="793.5" y2="183.2"/><line x1="781.5" y1="190.2" x2="769.5" y2="183.2"/><line x1="781.5" y1="190.2" x2="781.5" y2="204.3"/><line x1="805.5" y1="148.1" x2="817.5" y2="141.1"/><line x1="805.5" y1="148.1" x2="793.5" y2="141.1"/><line x1="805.5" y1="148.1" x2="805.5" y2="162.2"/><line x1="757.5" y1="176.2" x2="745.5" y2="183.2"/><line x1="757.5" y1="176.2" x2="769.5" y2="183.2"/><line x1="757.5" y1="176.2" x2="757.5" y2="162.2"/><line x1="781.5" y1="134.1" x2="769.5" y2="141.1"/><line x1="781.5" y1="134.1" x2="793.5" y2="141.1"/><line x1="781.5" y1="134.1" x2="781.5" y2="120.0"/><line x1="805.4" y1="176.2" x2="793.5" y2="183.2"/><line x1="805.4" y1="176.2" x2="817.4" y2="183.2"/><line x1="805.4" y1="176.2" x2="805.5" y2="162.2"/><line x1="829.4" y1="134.1" x2="817.5" y2="141.1"/><line x1="829.4" y1="134.1" x2="841.4" y2="141.1"/><line x1="829.4" y1="134.1" x2="829.5" y2="120.0"/></g>
<g stroke="#9c9a96" stroke-width="3.83" transform="translate(-0.40,-0.40)"><line x1="733.6" y1="190.2" x2="745.6" y2="183.2"/><line x1="733.6" y1="190.2" x2="721.6" y2="183.2"/><line x1="733.6" y1="190.2" x2="733.6" y2="204.3"/><line x1="757.6" y1="148.1" x2="769.6" y2="141.1"/><line x1="757.6" y1="148.1" x2="745.6" y2="141.1"/><line x1="757.6" y1="148.1" x2="757.6" y2="162.2"/><line x1="781.5" y1="190.2" x2="793.5" y2="183.2"/><line x1="781.5" y1="190.2" x2="769.5" y2="183.2"/><line x1="781.5" y1="190.2" x2="781.5" y2="204.3"/><line x1="805.5" y1="148.1" x2="817.5" y2="141.1"/><line x1="805.5" y1="148.1" x2="793.5" y2="141.1"/><line x1="805.5" y1="148.1" x2="805.5" y2="162.2"/><line x1="757.5" y1="176.2" x2="745.5" y2="183.2"/><line x1="757.5" y1="176.2" x2="769.5" y2="183.2"/><line x1="757.5" y1="176.2" x2="757.5" y2="162.2"/><line x1="781.5" y1="134.1" x2="769.5" y2="141.1"/><line x1="781.5" y1="134.1" x2="793.5" y2="141.1"/><line x1="781.5" y1="134.1" x2="781.5" y2="120.0"/><line x1="805.4" y1="176.2" x2="793.5" y2="183.2"/><line x1="805.4" y1="176.2" x2="817.4" y2="183.2"/><line x1="805.4" y1="176.2" x2="805.5" y2="162.2"/><line x1="829.4" y1="134.1" x2="817.5" y2="141.1"/><line x1="829.4" y1="134.1" x2="841.4" y2="141.1"/><line x1="829.4" y1="134.1" x2="829.5" y2="120.0"/></g>
<g stroke="#b4b2ae" stroke-width="2.38" transform="translate(-0.40,-0.40)"><line x1="733.6" y1="190.2" x2="745.6" y2="183.2"/><line x1="733.6" y1="190.2" x2="721.6" y2="183.2"/><line x1="733.6" y1="190.2" x2="733.6" y2="204.3"/><line x1="757.6" y1="148.1" x2="769.6" y2="141.1"/><line x1="757.6" y1="148.1" x2="745.6" y2="141.1"/><line x1="757.6" y1="148.1" x2="757.6" y2="162.2"/><line x1="781.5" y1="190.2" x2="793.5" y2="183.2"/><line x1="781.5" y1="190.2" x2="769.5" y2="183.2"/><line x1="781.5" y1="190.2" x2="781.5" y2="204.3"/><line x1="805.5" y1="148.1" x2="817.5" y2="141.1"/><line x1="805.5" y1="148.1" x2="793.5" y2="141.1"/><line x1="805.5" y1="148.1" x2="805.5" y2="162.2"/><line x1="757.5" y1="176.2" x2="745.5" y2="183.2"/><line x1="757.5" y1="176.2" x2="769.5" y2="183.2"/><line x1="757.5" y1="176.2" x2="757.5" y2="162.2"/><line x1="781.5" y1="134.1" x2="769.5" y2="141.1"/><line x1="781.5" y1="134.1" x2="793.5" y2="141.1"/><line x1="781.5" y1="134.1" x2="781.5" y2="120.0"/><line x1="805.4" y1="176.2" x2="793.5" y2="183.2"/><line x1="805.4" y1="176.2" x2="817.4" y2="183.2"/><line x1="805.4" y1="176.2" x2="805.5" y2="162.2"/><line x1="829.4" y1="134.1" x2="817.5" y2="141.1"/><line x1="829.4" y1="134.1" x2="841.4" y2="141.1"/><line x1="829.4" y1="134.1" x2="829.5" y2="120.0"/></g>
<g stroke="#c4c2be" stroke-width="1.06" transform="translate(-0.40,-0.40)"><line x1="733.6" y1="190.2" x2="745.6" y2="183.2"/><line x1="733.6" y1="190.2" x2="721.6" y2="183.2"/><line x1="733.6" y1="190.2" x2="733.6" y2="204.3"/><line x1="757.6" y1="148.1" x2="769.6" y2="141.1"/><line x1="757.6" y1="148.1" x2="745.6" y2="141.1"/><line x1="757.6" y1="148.1" x2="757.6" y2="162.2"/><line x1="781.5" y1="190.2" x2="793.5" y2="183.2"/><line x1="781.5" y1="190.2" x2="769.5" y2="183.2"/><line x1="781.5" y1="190.2" x2="781.5" y2="204.3"/><line x1="805.5" y1="148.1" x2="817.5" y2="141.1"/><line x1="805.5" y1="148.1" x2="793.5" y2="141.1"/><line x1="805.5" y1="148.1" x2="805.5" y2="162.2"/><line x1="757.5" y1="176.2" x2="745.5" y2="183.2"/><line x1="757.5" y1="176.2" x2="769.5" y2="183.2"/><line x1="757.5" y1="176.2" x2="757.5" y2="162.2"/><line x1="781.5" y1="134.1" x2="769.5" y2="141.1"/><line x1="781.5" y1="134.1" x2="793.5" y2="141.1"/><line x1="781.5" y1="134.1" x2="781.5" y2="120.0"/><line x1="805.4" y1="176.2" x2="793.5" y2="183.2"/><line x1="805.4" y1="176.2" x2="817.4" y2="183.2"/><line x1="805.4" y1="176.2" x2="805.5" y2="162.2"/><line x1="829.4" y1="134.1" x2="817.5" y2="141.1"/><line x1="829.4" y1="134.1" x2="841.4" y2="141.1"/><line x1="829.4" y1="134.1" x2="829.5" y2="120.0"/></g>
<circle cx="733.6" cy="190.2" r="8.70" fill="url(#gC)"/>
<circle cx="757.6" cy="148.1" r="8.70" fill="url(#gC)"/>
<circle cx="781.5" cy="190.2" r="8.70" fill="url(#gC)"/>
<circle cx="805.5" cy="148.1" r="8.70" fill="url(#gC)"/>
<circle cx="757.5" cy="176.2" r="8.70" fill="url(#gC)"/>
<circle cx="781.5" cy="134.1" r="8.70" fill="url(#gC)"/>
<circle cx="805.4" cy="176.2" r="8.70" fill="url(#gC)"/>
<circle cx="829.4" cy="134.1" r="8.70" fill="url(#gC)"/>
<polygon points="137.2,74.4 150.7,74.4 150.7,68.6 162.9,79.9 150.7,91.3 150.7,86.0 137.2,86.0" fill="url(#gA)" stroke="#6ea2de" stroke-width="0.9" stroke-linejoin="round" opacity="1.00"/>
<polygon points="369.5,74.4 383.2,74.4 383.2,68.6 394.9,79.9 383.2,91.3 383.2,86.0 369.5,86.0" fill="url(#gA)" stroke="#6ea2de" stroke-width="0.9" stroke-linejoin="round" opacity="1.00"/>
<polygon points="258.5,268.0 272.2,268.0 272.2,262.4 284.4,273.6 272.2,284.9 272.2,279.5 258.5,279.5" fill="url(#gA)" stroke="#6ea2de" stroke-width="0.9" stroke-linejoin="round" opacity="1.00"/>
<polygon points="640.4,165.6 654.2,165.6 654.2,160.5 665.1,171.3 654.2,182.1 654.2,176.4 640.4,176.4" fill="#9dbde8" stroke="#4f94e6" stroke-width="0.9" stroke-linejoin="round" opacity="1.00"/>
<rect x="169.3" y="390.3" width="157.8" height="248.9" fill="#d4d1cf"/>
<circle cx="125.1" cy="623.2" r="5.10" fill="url(#gB)"/>
<circle cx="133.7" cy="622.9" r="5.10" fill="url(#gB)"/>
<circle cx="142.0" cy="631.8" r="5.10" fill="url(#gB)"/>
<circle cx="133.5" cy="565.7" r="5.10" fill="url(#gB)"/>
<circle cx="136.5" cy="573.7" r="5.10" fill="url(#gB)"/>
<circle cx="133.5" cy="582.4" r="5.10" fill="url(#gB)"/>
<circle cx="136.7" cy="594.3" r="5.10" fill="url(#gB)"/>
<circle cx="144.8" cy="584.3" r="5.10" fill="url(#gB)"/>
<circle cx="151.0" cy="565.7" r="5.10" fill="url(#gB)"/>
<circle cx="151.0" cy="526.2" r="5.10" fill="url(#gB)"/>
<circle cx="159.6" cy="509.5" r="5.10" fill="url(#gB)"/>
<circle cx="171.1" cy="583.5" r="5.10" fill="url(#gB)"/>
<circle cx="200.6" cy="481.4" r="5.10" fill="url(#gB)"/>
<circle cx="201.0" cy="491.9" r="5.10" fill="url(#gB)"/>
<circle cx="199.2" cy="492.8" r="5.10" fill="url(#gB)"/>
<circle cx="227.6" cy="457.6" r="5.10" fill="url(#gB)"/>
<circle cx="267.3" cy="456.1" r="5.10" fill="url(#gB)"/>
<circle cx="267.3" cy="463.8" r="5.10" fill="url(#gB)"/>
<circle cx="274.5" cy="481.6" r="5.10" fill="url(#gB)"/>
<circle cx="303.0" cy="471.9" r="5.10" fill="url(#gB)"/>
<circle cx="303.0" cy="497.4" r="5.10" fill="url(#gB)"/>
<circle cx="319.4" cy="497.9" r="5.10" fill="url(#gB)"/>
<circle cx="329.6" cy="469.4" r="5.10" fill="url(#gB)"/>
<circle cx="329.6" cy="489.3" r="5.10" fill="url(#gB)"/>
<circle cx="329.6" cy="521.9" r="5.10" fill="url(#gB)"/>
<circle cx="353.0" cy="537.7" r="5.10" fill="url(#gB)"/>
<circle cx="358.2" cy="552.5" r="5.10" fill="url(#gB)"/>
<circle cx="369.4" cy="548.5" r="5.10" fill="url(#gB)"/>
<circle cx="375.0" cy="556.1" r="5.10" fill="url(#gB)"/>
<circle cx="371.4" cy="558.7" r="5.10" fill="url(#gB)"/>
<circle cx="369.4" cy="575.5" r="5.10" fill="url(#gB)"/>
<circle cx="372.0" cy="578.0" r="5.10" fill="url(#gB)"/>
<circle cx="375.0" cy="584.7" r="5.10" fill="url(#gB)"/>
<circle cx="191.3" cy="449.5" r="5.00" fill="#df1220" stroke="#c6141f" stroke-width="1"/>
<circle cx="199.5" cy="443.4" r="5.00" fill="#df1220" stroke="#c6141f" stroke-width="1"/>
<circle cx="200.5" cy="439.3" r="5.00" fill="#df1220" stroke="#c6141f" stroke-width="1"/>
<circle cx="217.9" cy="429.1" r="5.00" fill="#df1220" stroke="#c6141f" stroke-width="1"/>
<circle cx="223.5" cy="417.8" r="5.00" fill="#df1220" stroke="#c6141f" stroke-width="1"/>
<circle cx="249.5" cy="406.1" r="5.00" fill="#df1220" stroke="#c6141f" stroke-width="1"/>
<circle cx="271.9" cy="405.6" r="5.00" fill="#df1220" stroke="#c6141f" stroke-width="1"/>
<circle cx="266.8" cy="407.6" r="5.00" fill="#df1220" stroke="#c6141f" stroke-width="1"/>
<circle cx="270.9" cy="420.9" r="5.00" fill="#df1220" stroke="#c6141f" stroke-width="1"/>
<circle cx="304.6" cy="438.3" r="5.00" fill="#df1220" stroke="#c6141f" stroke-width="1"/>
<rect x="90.7" y="390.3" width="314.6" height="248.9" fill="none" stroke="#000" stroke-width="2.2"/>
<line x1="169.3" y1="639.2" x2="169.3" y2="632.6" stroke="#000" stroke-width="1.8"/>
<line x1="248.2" y1="639.2" x2="248.2" y2="632.6" stroke="#000" stroke-width="1.8"/>
<line x1="327.1" y1="639.2" x2="327.1" y2="632.6" stroke="#000" stroke-width="1.8"/>
<line x1="90.7" y1="589.4" x2="97.3" y2="589.4" stroke="#000" stroke-width="1.8"/>
<line x1="90.7" y1="539.6" x2="97.3" y2="539.6" stroke="#000" stroke-width="1.8"/>
<line x1="90.7" y1="489.9" x2="97.3" y2="489.9" stroke="#000" stroke-width="1.8"/>
<line x1="90.7" y1="440.1" x2="97.3" y2="440.1" stroke="#000" stroke-width="1.8"/>
<rect x="632.0" y="390.3" width="157.8" height="248.9" fill="#d4d1cf"/>
<circle cx="581.6" cy="609.4" r="4.60" fill="#4a90cf" stroke="#2f6aba" stroke-width="1.3"/>
<circle cx="612.3" cy="579.8" r="4.60" fill="#4a90cf" stroke="#2f6aba" stroke-width="1.3"/>
<circle cx="612.3" cy="588.8" r="4.60" fill="#4a90cf" stroke="#2f6aba" stroke-width="1.3"/>
<circle cx="612.3" cy="591.7" r="4.60" fill="#4a90cf" stroke="#2f6aba" stroke-width="1.3"/>
<circle cx="632.9" cy="571.1" r="4.60" fill="#4a90cf" stroke="#2f6aba" stroke-width="1.3"/>
<circle cx="632.9" cy="578.8" r="4.60" fill="#4a90cf" stroke="#2f6aba" stroke-width="1.3"/>
<circle cx="644.0" cy="566.8" r="4.60" fill="#4a90cf" stroke="#2f6aba" stroke-width="1.3"/>
<circle cx="644.0" cy="569.4" r="4.60" fill="#4a90cf" stroke="#2f6aba" stroke-width="1.3"/>
<circle cx="653.0" cy="559.1" r="4.60" fill="#4a90cf" stroke="#2f6aba" stroke-width="1.3"/>
<circle cx="653.0" cy="562.5" r="4.60" fill="#4a90cf" stroke="#2f6aba" stroke-width="1.3"/>
<circle cx="653.0" cy="566.5" r="4.60" fill="#4a90cf" stroke="#2f6aba" stroke-width="1.3"/>
<circle cx="679.7" cy="562.5" r="4.60" fill="#4a90cf" stroke="#2f6aba" stroke-width="1.3"/>
<circle cx="727.7" cy="559.1" r="4.60" fill="#4a90cf" stroke="#2f6aba" stroke-width="1.3"/>
<circle cx="749.1" cy="557.4" r="4.60" fill="#4a90cf" stroke="#2f6aba" stroke-width="1.3"/>
<circle cx="749.1" cy="560.3" r="4.60" fill="#4a90cf" stroke="#2f6aba" stroke-width="1.3"/>
<circle cx="749.1" cy="563.4" r="4.60" fill="#4a90cf" stroke="#2f6aba" stroke-width="1.3"/>
<circle cx="781.7" cy="564.2" r="4.60" fill="#4a90cf" stroke="#2f6aba" stroke-width="1.3"/>
<circle cx="786.0" cy="570.6" r="4.60" fill="#4a90cf" stroke="#2f6aba" stroke-width="1.3"/>
<circle cx="809.8" cy="574.0" r="4.60" fill="#4a90cf" stroke="#2f6aba" stroke-width="1.3"/>
<circle cx="809.8" cy="577.1" r="4.60" fill="#4a90cf" stroke="#2f6aba" stroke-width="1.3"/>
<circle cx="809.8" cy="581.9" r="4.60" fill="#4a90cf" stroke="#2f6aba" stroke-width="1.3"/>
<circle cx="815.5" cy="579.7" r="4.60" fill="#4a90cf" stroke="#2f6aba" stroke-width="1.3"/>
<circle cx="812.9" cy="583.1" r="4.60" fill="#4a90cf" stroke="#2f6aba" stroke-width="1.3"/>
<circle cx="826.7" cy="589.1" r="4.60" fill="#4a90cf" stroke="#2f6aba" stroke-width="1.3"/>
<circle cx="831.3" cy="592.9" r="4.60" fill="#4a90cf" stroke="#2f6aba" stroke-width="1.3"/>
<circle cx="680.0" cy="444.0" r="4.70" fill="#e0101e" stroke="#c81828" stroke-width="1"/>
<circle cx="680.0" cy="474.9" r="4.70" fill="#e0101e" stroke="#c81828" stroke-width="1"/>
<circle cx="679.7" cy="556.9" r="4.70" fill="#e0101e" stroke="#c81828" stroke-width="1"/>
<circle cx="706.6" cy="552.2" r="4.70" fill="#e0101e" stroke="#c81828" stroke-width="1"/>
<circle cx="706.6" cy="555.7" r="4.70" fill="#e0101e" stroke="#c81828" stroke-width="1"/>
<circle cx="715.7" cy="554.8" r="4.70" fill="#e0101e" stroke="#c81828" stroke-width="1"/>
<circle cx="715.7" cy="556.9" r="4.70" fill="#e0101e" stroke="#c81828" stroke-width="1"/>
<circle cx="727.7" cy="555.7" r="4.70" fill="#e0101e" stroke="#c81828" stroke-width="1"/>
<rect x="553.3" y="390.3" width="314.5" height="248.9" fill="none" stroke="#000" stroke-width="2.2"/>
<line x1="632.0" y1="639.2" x2="632.0" y2="632.6" stroke="#000" stroke-width="1.8"/>
<line x1="710.9" y1="639.2" x2="710.9" y2="632.6" stroke="#000" stroke-width="1.8"/>
<line x1="789.8" y1="639.2" x2="789.8" y2="632.6" stroke="#000" stroke-width="1.8"/>
<line x1="553.3" y1="589.4" x2="559.9" y2="589.4" stroke="#000" stroke-width="1.8"/>
<line x1="553.3" y1="539.6" x2="559.9" y2="539.6" stroke="#000" stroke-width="1.8"/>
<line x1="553.3" y1="489.9" x2="559.9" y2="489.9" stroke="#000" stroke-width="1.8"/>
<line x1="553.3" y1="440.1" x2="559.9" y2="440.1" stroke="#000" stroke-width="1.8"/>
<text transform="matrix(1.0712 0 0 0.9843 96.76 63.79)" font-size="28">Supercell</text>
<text transform="matrix(1.2020 0 0 0.9778 115.90 114.06)" font-size="28"><tspan font-weight="bold" font-style="italic" font-size="27">M</tspan><tspan dy="-7" font-size="16">a</tspan><tspan dy="7" font-size="1">&#8203;</tspan><tspan font-weight="bold" font-style="italic" font-size="24">a</tspan><tspan dy="-7" font-size="16">a</tspan><tspan dy="7" font-size="1">&#8203;</tspan></text>
<text transform="matrix(1.2693 0 0 1.0237 31.58 105.44)" font-size="28"><tspan font-weight="bold" font-style="italic" font-size="24">a</tspan><tspan dy="-7" font-size="16">a</tspan><tspan dy="7" font-size="1">&#8203;</tspan></text>
<text transform="matrix(1.2960 0 0 1.0194 235.78 121.55)" font-size="28"><tspan font-weight="bold" font-style="italic" font-size="24">a&#x0304;</tspan><tspan dy="-7" font-size="16">a</tspan><tspan dy="7" font-size="1">&#8203;</tspan></text>
<text transform="matrix(1.1364 0 0 0.9280 344.33 63.97)" font-size="28">Strain</text>
<text transform="matrix(1.2715 0 0 0.9432 321.31 112.65)" font-size="28">(1+<tspan font-style="italic">&#x394;</tspan>)<tspan font-weight="bold" font-style="italic" font-size="24">a&#x0304;</tspan><tspan dy="-7" font-size="16">a</tspan><tspan dy="7" font-size="1">&#8203;</tspan></text>
<text transform="matrix(1.2788 0 0 0.9405 442.90 140.10)" font-size="28">(1+<tspan font-style="italic">&#x394;</tspan>)<tspan font-weight="bold" font-style="italic" font-size="24">a&#x0304;</tspan><tspan dy="-7" font-size="16">a</tspan><tspan dy="7" font-size="1">&#8203;</tspan></text>
<text transform="matrix(1.1016 0 0 0.9098 592.10 151.24)" font-size="28">Stacking</text>
<text transform="matrix(1.1887 0 0 0.9840 786.91 21.24)" font-size="28">(<tspan font-size="23">a</tspan>)</text>
<text transform="matrix(1.0625 0 0 0.9451 218.28 254.33)" font-size="28">Supercell</text>
<text transform="matrix(1.1796 0 0 0.9667 240.79 308.36)" font-size="28"><tspan font-weight="bold" font-style="italic" font-size="27">M</tspan><tspan dy="-7" font-size="16">a</tspan><tspan dy="7" font-size="1">&#8203;</tspan><tspan font-weight="bold" font-style="italic" font-size="24">a</tspan><tspan dy="-7" font-size="16">s</tspan><tspan dy="7" font-size="1">&#8203;</tspan></text>
<text transform="matrix(1.2114 0 0 1.0373 66.60 331.44)" font-size="28"><tspan font-weight="bold" font-style="italic" font-size="24">a</tspan><tspan dy="-7" font-size="16">s</tspan><tspan dy="7" font-size="1">&#8203;</tspan></text>
<text transform="matrix(1.2114 0 0 1.0387 415.80 335.94)" font-size="28"><tspan font-weight="bold" font-style="italic" font-size="24">a&#x0304;</tspan><tspan dy="-7" font-size="16">s</tspan><tspan dy="7" font-size="1">&#8203;</tspan></text>
<text transform="matrix(1.2175 0 0 1.0933 147.08 379.53)" font-size="28">Gr@Ru(0001)</text>
<text transform="matrix(1.2487 0 0 1.0101 633.30 376.50)" font-size="28">Sb@PdTe<tspan dy="5" font-size="19">2</tspan></text>
<text transform="matrix(1.2142 0 0 0.9600 105.18 421.38)" font-size="28">(<tspan font-size="24">b</tspan>)</text>
<text transform="matrix(1.1547 0 0 0.9840 573.16 421.84)" font-size="28">(<tspan font-size="23">c</tspan>)</text>
<text transform="matrix(1.1600 0 0 1.0215 73.04 647.74)" font-size="24">0</text>
<text transform="matrix(1.1600 0 0 1.0215 59.12 597.96)" font-size="24">10</text>
<text transform="matrix(1.1600 0 0 1.0215 59.12 548.18)" font-size="24">20</text>
<text transform="matrix(1.1600 0 0 1.0215 59.12 498.40)" font-size="24">30</text>
<text transform="matrix(1.1600 0 0 1.0215 59.12 448.62)" font-size="24">40</text>
<text transform="matrix(1.1600 0 0 1.0215 59.12 398.84)" font-size="24">50</text>
<text transform="matrix(1.1600 0 0 1.0375 519.22 648.14)" font-size="24">15</text>
<text transform="matrix(1.1600 0 0 1.0215 519.22 598.36)" font-size="24">20</text>
<text transform="matrix(1.1600 0 0 1.0375 519.22 548.58)" font-size="24">25</text>
<text transform="matrix(1.1600 0 0 1.0215 519.22 498.80)" font-size="24">30</text>
<text transform="matrix(1.1600 0 0 1.0375 519.22 449.02)" font-size="24">35</text>
<text transform="matrix(1.1600 0 0 1.0215 519.22 399.24)" font-size="24">40</text>
<text transform="matrix(1.3172 0 0 1.1323 65.55 670.72)" font-size="24">&#x2212;6%</text>
<text transform="matrix(1.2920 0 0 1.1323 535.69 668.82)" font-size="24">&#x2212;6%</text>
<text transform="matrix(1.3057 0 0 1.1323 147.37 670.72)" font-size="24">&#x2212;3%</text>
<text transform="matrix(1.3011 0 0 1.1323 613.87 668.82)" font-size="24">&#x2212;3%</text>
<text transform="matrix(1.1868 0 0 1.1323 228.21 670.72)" font-size="24">0%</text>
<text transform="matrix(1.1868 0 0 1.1323 694.51 668.82)" font-size="24">0%</text>
<text transform="matrix(1.2033 0 0 1.1323 306.90 670.72)" font-size="24">3%</text>
<text transform="matrix(1.1767 0 0 1.1323 774.03 668.82)" font-size="24">3%</text>
<text transform="matrix(1.2066 0 0 1.1323 383.89 670.72)" font-size="24">6%</text>
<text transform="matrix(1.1835 0 0 1.1323 852.82 668.82)" font-size="24">6%</text>
<text transform="matrix(1.2432 0 0 1.0329 179.67 706.04)" font-size="28">Mismatch</text>
<text transform="matrix(1.2523 0 0 1.0329 643.26 707.24)" font-size="28">Mismatch</text>
<text transform="rotate(-90) matrix(1.2359 0 0 0.9981 -592.49 42.46)" font-size="25"><tspan font-style="italic">E</tspan><tspan dy="5" font-size="18">b</tspan><tspan dy="-5"> (meV/&#xC5;</tspan><tspan dy="-8" font-size="16">2</tspan><tspan dy="8">)</tspan></text>
<text transform="rotate(-90) matrix(1.2359 0 0 0.9981 -592.49 499.76)" font-size="25"><tspan font-style="italic">E</tspan><tspan dy="5" font-size="18">b</tspan><tspan dy="-5"> (meV/&#xC5;</tspan><tspan dy="-8" font-size="16">2</tspan><tspan dy="8">)</tspan></text>
</svg>
</body></html>
